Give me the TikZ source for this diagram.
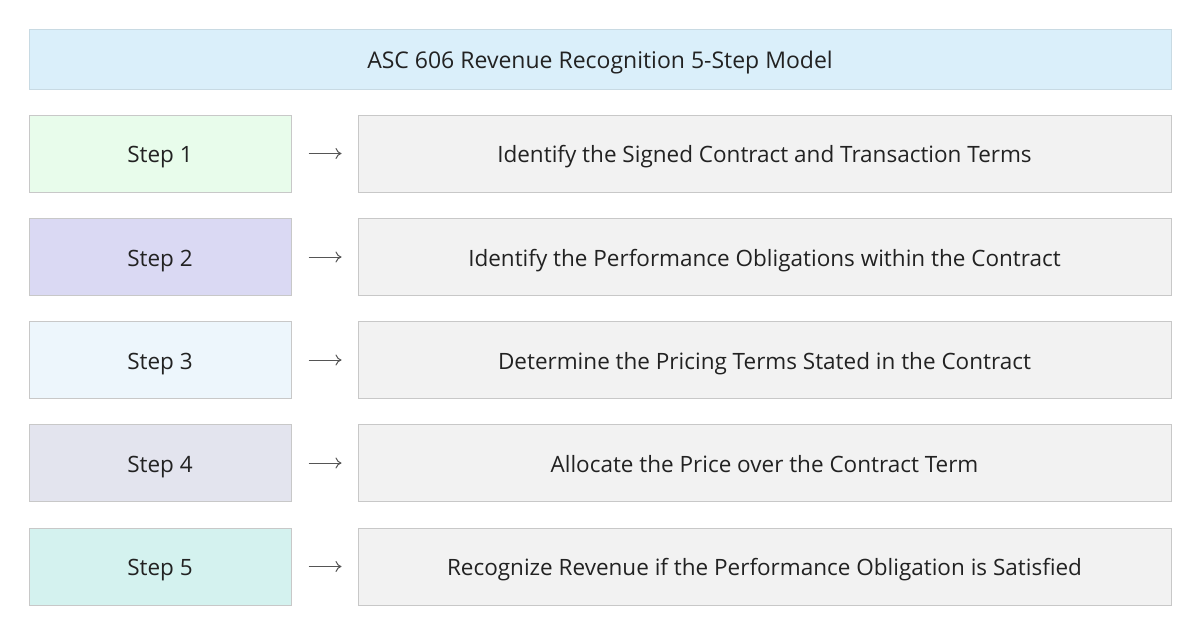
\documentclass[tikz,border=0pt]{standalone}
\usepackage{fontspec}
\setmainfont{Open Sans}
\usetikzlibrary{arrows.meta}
\definecolor{titlefill}{HTML}{DAEFFA}
\definecolor{titledraw}{HTML}{C8DAE3}
\definecolor{fillA}{HTML}{E8FCEB}
\definecolor{fillB}{HTML}{DAD9F3}
\definecolor{fillC}{HTML}{EDF6FC}
\definecolor{fillD}{HTML}{E3E4EE}
\definecolor{fillE}{HTML}{D4F2EF}
\definecolor{descfill}{HTML}{F2F2F2}
\definecolor{boxdraw}{HTML}{C8C8C8}
\definecolor{txt}{HTML}{222222}
\definecolor{arr}{HTML}{555555}
\begin{document}
\begin{tikzpicture}[x=1pt,y=-1pt,
  box/.style={draw=boxdraw,line width=1pt,inner sep=0pt,text=txt,text height=18.5pt,text depth=0pt,font=\fontsize{22.5}{27}\selectfont},
  stepbox/.style={box,minimum width=262pt,minimum height=77pt},
  descbox/.style={box,fill=descfill,minimum width=813pt,minimum height=77pt},
  link/.style={draw=arr,line width=1pt,-{To[length=6pt,width=11pt]},shorten <=17pt,shorten >=16pt}]
\useasboundingbox (0,0) rectangle (1200,643);
\fill[white] (0,0) rectangle (1200,643);
\node[box,draw=titledraw,fill=titlefill,minimum width=1142pt,minimum height=60pt,font=\fontsize{23}{27}\selectfont,text height=18.5pt] (title) at (600,59) {ASC 606 Revenue Recognition 5-Step Model};
\foreach \i/\y/\f/\t in {1/153.5/fillA/{Identify the Signed Contract and Transaction Terms},
  2/257/fillB/{Identify the Performance Obligations within the Contract},
  3/360/fillC/{Determine the Pricing Terms Stated in the Contract},
  4/463/fillD/{Allocate the Price over the Contract Term},
  5/566.5/fillE/{Recognize Revenue if the Performance Obligation is Satisfied}}{
  \node[stepbox,fill=\f] (s\i) at (160,\y) {Step \i};
  \node[descbox] (d\i) at (764.5,\y) {\t};
  \draw[link] (s\i) -- (d\i);
}
\end{tikzpicture}
\end{document}
